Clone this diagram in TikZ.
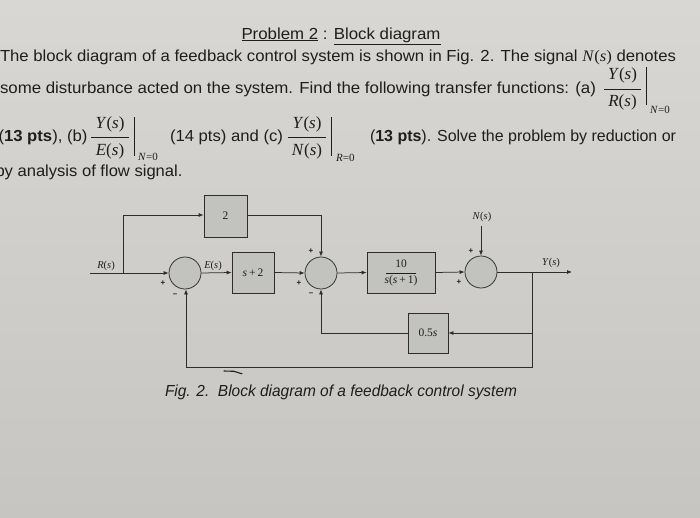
\documentclass[tikz,border=0pt]{standalone}
\usepackage{fontspec}
\setmainfont{Liberation Sans}
\newfontfamily\tms{Liberation Serif}
\usepackage{graphicx}
\usetikzlibrary{arrows.meta}
\definecolor{paper}{RGB}{216,215,211}
\definecolor{paperdark}{RGB}{198,197,193}
\definecolor{boxfill}{RGB}{194,194,190}
\definecolor{ink}{RGB}{30,30,30}
\definecolor{lineink}{RGB}{45,45,45}
\newcommand\fv[1]{{\tms\textit{#1}}}
\newcommand\sig[2]{{\tms\textit{#1}(\textit{#2})}}
\tikzset{
  txt/.style={inner sep=0pt, outer sep=0pt, text=ink, font=\fontsize{16}{18}\selectfont},
  fracpart/.style={inner sep=0pt, text=ink, font=\fontsize{17}{19}\selectfont},
  subpart/.style={inner sep=0pt, text=ink, font=\fontsize{11}{12}\selectfont},
  blk/.style={draw=lineink, fill=boxfill, line width=0.75pt, inner sep=0pt, font=\tms\fontsize{11.5}{12}\selectfont, text=ink},
  sumj/.style={circle, draw=lineink, fill=boxfill, line width=0.75pt, minimum size=32pt, inner sep=0pt},
  sgn/.style={inner sep=0pt, font=\fontsize{8}{9}\selectfont\bfseries, text=ink},
  lbl/.style={inner sep=0pt, font=\tms\fontsize{10.5}{11}\selectfont, text=ink},
  wire/.style={draw=lineink, line width=0.75pt},
  arr/.style={wire, -{Latex[length=5pt,width=4pt]}},
}
\begin{document}
\begin{tikzpicture}[x=1pt,y=-1pt]
\useasboundingbox (0,0) rectangle (700,518);
\shade[top color=paper, bottom color=paperdark] (0,0) rectangle (700,518);
% ---------- text ----------
\node[txt] (title) at (341,36) {\resizebox{199pt}{\height}{\underline{Problem 2} : \underline{Block diagram}}};
\node[txt, anchor=west] (l1) at (0,57) {\resizebox{676pt}{\height}{The block diagram of a feedback control system is shown in Fig. 2. The signal \sig{N}{s} denotes}};
\node[txt, anchor=west] (l2) at (0,89) {\resizebox{596pt}{\height}{some disturbance acted on the system. Find the following transfer functions: (a)}};
\node[fracpart] (n1) at (622.5,75) {\sig{Y}{s}};
\node[fracpart] (d1) at (622.5,102) {\sig{R}{s}};
\coordinate (b1a) at (604,89); \coordinate (b1b) at (641,89);
\draw[ink, line width=0.6pt] (b1a) -- (b1b);
\coordinate (v1a) at (646,67); \coordinate (v1b) at (646,105);
\draw[ink, line width=0.6pt] (v1a) -- (v1b);
\node[subpart, anchor=west] (s1) at (650,110) {\fv{N}{\tms =0}};
\node[txt, anchor=west] (l3a) at (-1.5,137) {\resizebox{89pt}{\height}{(\textbf{13 pts}), (b)}};
\node[fracpart] (n2) at (110,124) {\sig{Y}{s}};
\node[fracpart] (d2) at (110,151) {\sig{E}{s}};
\coordinate (b2a) at (91,137); \coordinate (b2b) at (129,137);
\draw[ink, line width=0.6pt] (b2a) -- (b2b);
\coordinate (v2a) at (134,117); \coordinate (v2b) at (134,156);
\draw[ink, line width=0.6pt] (v2a) -- (v2b);
\node[subpart, anchor=west] (s2) at (138,157) {\fv{N}{\tms =0}};
\node[txt, anchor=west] (l3b) at (170,137) {\resizebox{113pt}{\height}{(14 pts) and (c)}};
\node[fracpart] (n3) at (307,124) {\sig{Y}{s}};
\node[fracpart] (d3) at (307,151) {\sig{N}{s}};
\coordinate (b3a) at (288,137); \coordinate (b3b) at (326,137);
\draw[ink, line width=0.6pt] (b3a) -- (b3b);
\coordinate (v3a) at (331,117); \coordinate (v3b) at (331,156);
\draw[ink, line width=0.6pt] (v3a) -- (v3b);
\node[subpart, anchor=west] (s3) at (336,158) {\fv{R}{\tms =0}};
\node[txt, anchor=west] (l3c) at (370,137) {\resizebox{306pt}{\height}{(\textbf{13 pts}). Solve the problem by reduction or}};
\node[txt, anchor=west] (l4) at (-4.5,172) {\resizebox{187pt}{\height}{by analysis of flow signal.}};
\node[txt, anchor=west] (cap) at (165,392) {\resizebox{352pt}{\height}{\itshape Fig. 2.\ \ Block diagram of a feedback control system}};
% ---------- diagram ----------
\node[sumj] (s1j) at (185,273) {};
\node[blk, minimum width=42pt, minimum height=41pt] (g1) at (253,272.5) {\fv{s}\,+\,2};
\node[sumj] (s2j) at (321,273) {};
\node[blk, minimum width=43pt, minimum height=42pt] (g2) at (225.5,216) {2};
\node[blk, minimum width=68pt, minimum height=41pt, align=center] (g3) at (401,272.5) {10\\[-3pt]\rule[3pt]{30pt}{0.4pt}\\[-5pt]\fv{s}(\fv{s}\,+\,1)};
\node[sumj] (s3j) at (481,272) {};
\node[blk, minimum width=40pt, minimum height=40pt] (h) at (428,333) {0.5\fv{s}};
\coordinate (rin) at (90,273);
\coordinate (br) at (123,273);
\coordinate (yout) at (572,272);
\coordinate (by) at (532,272);
\coordinate (nin) at (481,226);
\node[lbl] (rl) at (106,266) {\sig{R}{s}};
\node[lbl] (el) at (213,266) {\sig{E}{s}};
\node[lbl] (nl) at (482,217) {\sig{N}{s}};
\node[lbl] (yl) at (551,263) {\sig{Y}{s}};
% wires
\draw[arr] (rin) -- (s1j.west);
\draw[arr] (br) |- (g2.west |- 0,215);
\draw[arr] (g2.east |- 0,215) -| (s2j.north);
\draw[arr] (s1j.east) -- (g1.west);
\draw[arr] (g1.east) -- (s2j.west);
\draw[arr] (s2j.east) -- (g3.west);
\draw[arr] (g3.east) -- (s3j.west);
\draw[arr] (nin) -- (s3j.north);
\draw[arr] (s3j.east) -- (yout);
\draw[arr] (by) |- (h.east);
\draw[arr] (h.west) -| (s2j.south);
\coordinate (bl) at (186,367);
\draw[arr] (by) |- (bl) -- (s1j.south -| bl);
% signs
\node[sgn] at (163,283) {+};
\node[sgn] at (175,295) {--};
\node[sgn] at (311,251) {+};
\node[sgn] at (299,283) {+};
\node[sgn] at (311,294) {--};
\node[sgn] at (471,251) {+};
\node[sgn] at (459,282) {+};
% stray pen mark
\draw[ink, line width=1.1pt, line cap=round] (224,371) -- (234,371.3) -- (242,373.8);
\end{tikzpicture}
\end{document}
